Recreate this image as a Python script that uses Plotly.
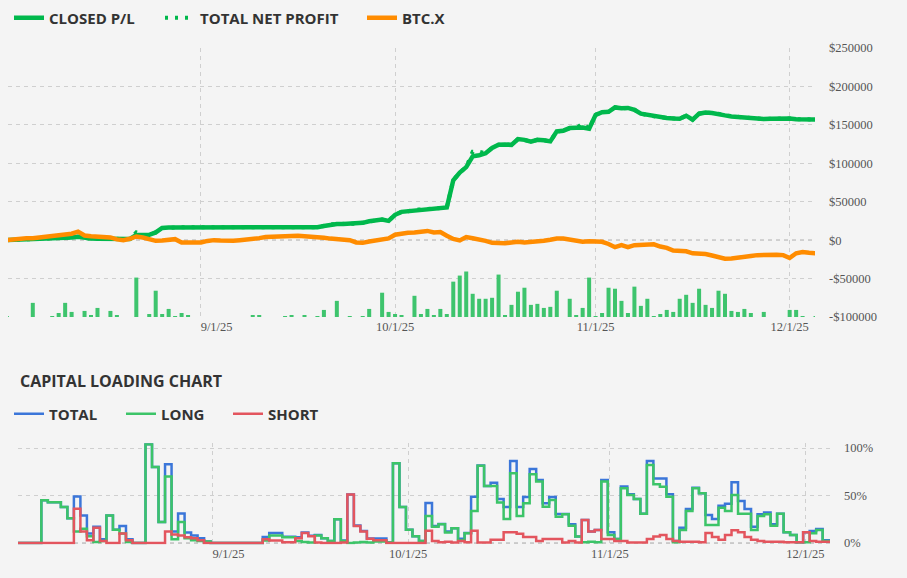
import pandas as pd
import plotly.graph_objects as go

# ---- data ----
days = pd.date_range("2025-08-02", "2025-12-05", freq="D")           # 126 trading days
load_times = pd.date_range("2025-08-01 16:00", periods=127, freq="D")  # capital loading, at close

daily_pl_bars = [
    1000, 0, 0, 0, 18400, 0, 0, 1300, 5200, 18400,
    6600, 0, 7900, 2600, 11800, 0, 7900, 1750, 0, 0,
    51300, 0, 3900, 34200, 3900, 10500, 1300, 5200, 1750, 0,
    0, 0, 0, 0, 0, 0, 0, 0, 2600, 2600,
    0, 0, 0, 1300, 2600, 0, 2600, 0, 1300, 9200,
    0, 21000, 0, 1300, 0, 1300, 10500, 0, 31600, 6600,
    3900, 2600, 0, 27600, 3900, 10500, 2600, 10500, 3900, 46000,
    53900, 59200, 30200, 23700, 23700, 25000, 55200, 2600, 15800, 32900,
    38100, 15800, 17100, 11800, 13200, 34200, 0, 23700, 2600, 11800,
    51300, 1300, 5200, 38100, 36800, 21000, 5200, 39500, 14500, 23700,
    1300, 3900, 9200, 6600, 23700, 28900, 18400, 36800, 15800, 11800,
    34200, 30200, 7900, 6600, 10500, 5200, 0, 6600, 0, 0,
    0, 9200, 9200, 1300, 0, 1300,
]

closed_pl = [
    0, 300, 500, 600, 800, 1000, 1500, 2200, 2500, 2800,
    3500, 4500, 2500, 2000, 1800, 1800, 1500, 1200, 1200, 1500,
    6600, 6600, 7000, 10000, 15800, 16500, 16600, 16700, 16700, 16700,
    16700, 16700, 16700, 16700, 16700, 16700, 16700, 16700, 16700, 16700,
    16800, 16800, 16800, 16800, 16800, 16800, 16900, 16900, 16900, 18500,
    20500, 21000, 21000, 21200, 21500, 22500, 24500, 25500, 26700, 25000,
    33000, 36800, 37500, 39500, 40000, 40500, 41000, 41500, 42500, 78000,
    88000, 95000, 109000, 110500, 113000, 120000, 124000, 124500, 124000, 131500,
    130500, 128000, 130600, 130000, 128500, 141500, 142400, 145800, 145800, 146500,
    145000, 163000, 166500, 167000, 172700, 171500, 172000, 169700, 164500, 162800,
    161000, 159700, 159000, 158300, 158000, 161900, 156700, 164500, 166000, 165300,
    164500, 162300, 161000, 160200, 159500, 158800, 158000, 157500, 157800, 158400,
    158400, 158400, 157200, 157100, 157100, 157100,
]

total_net_profit = [
    0, 300, 500, 600, 800, 1000, 1500, 2200, 2500, 2800,
    3500, 4500, 2500, 2000, 1800, 1800, 1500, 1200, 1200, 1500,
    10000, 6600, 7000, 10000, 15800, 16500, 16600, 16700, 16700, 16700,
    16700, 16700, 16700, 16700, 16700, 16700, 16700, 16700, 16700, 16700,
    16800, 16800, 16800, 16800, 16800, 16800, 16900, 16900, 16900, 18500,
    20500, 21000, 21000, 21200, 21500, 22500, 24500, 25500, 26700, 25000,
    33000, 36800, 37500, 39500, 40000, 40500, 41000, 41500, 42500, 78000,
    88000, 95000, 115000, 115000, 113000, 120000, 124000, 124500, 124000, 131500,
    130500, 128000, 130600, 130000, 128500, 141500, 142400, 145800, 145800, 152000,
    145000, 163000, 166500, 167000, 172700, 171500, 172000, 169700, 164500, 162800,
    161000, 159700, 159000, 158300, 158000, 161900, 156700, 164500, 166000, 165300,
    164500, 162300, 161000, 160200, 159500, 158800, 158000, 157500, 157800, 158400,
    158400, 158400, 157200, 157100, 157100, 157100,
]

btc_x = [
    0, 1000, 2600, 2600, 2600, 3500, 4800, 5500, 6600, 7500,
    8300, 11000, 6000, 5000, 4800, 4500, 3500, 1000, 0, 1750,
    4800, 3500, 1500, -900, -500, 0, 1300, -3000, -3000, -3200,
    -3000, -1000, 0, -500, -900, -900, 0, 500, 1300, 2600,
    4000, 4500, 4800, 5000, 5200, 5700, 5200, 4800, 4000, 3000,
    2000, 1300, 1000, 0, -3000, -3500, -1750, -500, 0, 2200,
    7000, 8500, 9500, 10000, 11000, 12000, 10000, 10500, 5700, 1500,
    -400, 4000, 2500, 1300, -1000, -3500, -4000, -4000, -3000, -2200,
    -3000, -2500, -1500, -900, 500, 2200, 2200, 1000, -1000, -2200,
    -1500, -1300, -2200, -5000, -9200, -6600, -9200, -6600, -6000, -4800,
    -5500, -8300, -10000, -13600, -14000, -14500, -17100, -17500, -18000, -20000,
    -22400, -24100, -24000, -22400, -21500, -20600, -19500, -18900, -18900, -18900,
    -19500, -23200, -17100, -15400, -16500, -17100,
]

load_total = [
    0, 0, 0, 0, 45, 43, 43, 38, 26, 49,
    29, 10, 17, 4, 29, 14, 18, 4, 0, 0,
    104, 80, 22, 83, 12, 31, 11, 8, 5, 1.5,
    0, 0, 0, 0, 0, 0, 0, 0, 6.3, 10.5,
    10.5, 6.5, 6.5, 6, 11, 7.5, 8.5, 5, 2, 25,
    2.5, 51, 18.5, 12.5, 4.6, 4.6, 4.6, 0.5, 84, 38,
    14, 7, 2, 42, 18, 20, 12, 15.5, 4.5, 10.5,
    48.8, 81.5, 60, 63.5, 46.3, 37.9, 86.3, 37.9, 48.4, 77.9,
    66.3, 41.8, 48.4, 30.5, 30.5, 19.6, 6.7, 24.2, 12, 13.7,
    66.3, 11.2, 4.2, 59.5, 51.2, 46.3, 30.9, 86.3, 68, 68,
    51.2, 2, 16.1, 35.8, 58.2, 52.3, 29.5, 25.3, 39.3, 41.4,
    63.9, 44.2, 35.8, 17.2, 30.2, 32, 19.6, 30.9, 11.2, 8.4,
    0.7, 11.2, 12.6, 14.7, 2.8, 2.8, 2.8,
]

load_long = [
    0, 0, 0, 0, 45, 43, 43, 38, 26, 12,
    15, 7, 1, 2, 29, 14, 10, 1, 0, 0,
    104, 80, 22, 70, 4, 22, 5, 3, 2, 1.5,
    0, 0, 0, 0, 0, 0, 0, 0, 2.5, 8,
    8, 6, 6, 2, 1, 0.5, 8, 5, 2, 25,
    2, 0, 0.5, 1, 0.5, 1.5, 1.5, 0.5, 84, 38,
    14, 7, 2, 28.4, 17, 19.6, 11, 15.4, 2.8, 10.2,
    33.7, 81.4, 60, 60, 42.5, 25.3, 73.3, 28.4, 41.8, 72.3,
    64.6, 38.2, 45.3, 27.7, 30.2, 18.2, 6.7, 0.7, 1.4, 0.7,
    64.6, 8.4, 4.2, 57.5, 50.5, 46.3, 30.9, 82, 61.8, 59.3,
    48.8, 0.7, 13.7, 33.7, 57.5, 52.3, 19, 19, 37.2, 33.7,
    50.5, 30.9, 30.9, 13.7, 28.4, 30.2, 18.2, 30.9, 11.2, 8.4,
    0.7, 0.7, 10.2, 13.7, 2, 2, 2,
]

load_short = [
    0, 0, 0, 0, 0, 0, 0, 0, 0, 36,
    12, 3, 16, 2, 0, 0, 10, 3, 0, 0,
    0, 0, 0, 12, 9, 8, 6, 5, 3, 0,
    0, 0, 0, 0, 0, 0, 0, 0, 4, 2.5,
    2.5, 0.7, 0.7, 5, 10.5, 7, 0.5, 0, 0, 0,
    0.5, 51, 18, 12, 4.5, 3, 3, 0, 0, 0,
    0, 0, 0, 13, 2, 0.7, 1.4, 0.5, 2, 0.7,
    13, 0.5, 0.5, 3.5, 3.5, 11.2, 11.2, 9.8, 6.3, 6.3,
    2, 4.2, 4.2, 4.2, 0.5, 2, 0.5, 24.2, 12, 13.7,
    4.2, 4.2, 2, 2, 0.5, 0.5, 0.5, 4.2, 6.7, 8.4,
    4.2, 2, 1.4, 1.4, 1.4, 0.7, 10.5, 6.3, 3.5, 8.4,
    13.3, 11.2, 6.3, 3.5, 2, 1.4, 1.4, 1.4, 0.7, 0.7,
    0.7, 11.2, 2, 1.4, 1.4, 1.4, 1.4,
]

month_ticks = ["2025-09-01", "2025-10-01", "2025-11-01", "2025-12-01"]
# the first label sits to the right of its gridline in the original
month_labels = ["\u00a0" * 10 + "9/1/25", "10/1/25", "11/1/25", "12/1/25"]
pl_ticks = [-100000, -50000, 0, 50000, 100000, 150000, 200000, 250000]
pl_labels = ["-$100000", "-$50000", "$0", "$50000", "$100000", "$150000", "$200000", "$250000"]
load_ticks = [0, 50, 100]
load_labels = ["0%", "50%", "100%"]

# ---- style ----
W, H = 907, 578
BG = "#f4f4f4"
GREEN = "#00b84c"
ORANGE = "#ff8c00"
BAR_GREEN = "#3ec46d"
BLUE = "#3b76d9"
LONG_GREEN = "#3cc468"
RED = "#e3555e"
GRID = "#cfcfcf"
TICKFONT = dict(family="Liberation Serif", size=12.5, color="#555555")
LEGFONT = dict(family="Open Sans", size=15, color="#333333", weight=700)


def px_x(p):
    return p / W


def px_y(p):
    return 1 - p / H


fig = go.Figure()

fig.add_trace(go.Bar(x=days, y=daily_pl_bars, base=-100000, marker=dict(color=BAR_GREEN, line=dict(width=0)),
                     showlegend=False, xaxis="x", yaxis="y"))
fig.add_trace(go.Scatter(x=days, y=total_net_profit, mode="lines", name="TOTAL NET PROFIT",
                         line=dict(color=GREEN, width=4, dash="3px,7px"), legend="legend2",
                         xaxis="x", yaxis="y"))
fig.add_trace(go.Scatter(x=days, y=closed_pl, mode="lines", name="CLOSED P/L",
                         line=dict(color=GREEN, width=4.5), legend="legend",
                         xaxis="x", yaxis="y"))
fig.add_trace(go.Scatter(x=days, y=btc_x, mode="lines", name="BTC.X",
                         line=dict(color=ORANGE, width=4.5), legend="legend3",
                         xaxis="x", yaxis="y"))

fig.add_trace(go.Scatter(x=load_times, y=load_total, mode="lines", name="TOTAL",
                         line=dict(color=BLUE, width=2.5, shape="hv"), legend="legend4",
                         xaxis="x2", yaxis="y2"))
fig.add_trace(go.Scatter(x=load_times, y=load_long, mode="lines", name="LONG",
                         line=dict(color=LONG_GREEN, width=2.5, shape="hv"), legend="legend5",
                         xaxis="x2", yaxis="y2"))
fig.add_trace(go.Scatter(x=load_times, y=load_short, mode="lines", name="SHORT",
                         line=dict(color=RED, width=2.5, shape="hv"), legend="legend6",
                         xaxis="x2", yaxis="y2"))

axis_common = dict(showgrid=True, gridcolor=GRID, griddash="4px,4px", gridwidth=1,
                   zeroline=False, showline=False, ticks="", tickfont=TICKFONT, fixedrange=True)


def leg(xp, yp):
    return dict(orientation="h", x=px_x(xp), y=px_y(yp), xanchor="left", yanchor="middle",
                bgcolor="rgba(0,0,0,0)", font=LEGFONT, borderwidth=0)


fig.update_layout(
    width=W, height=H,
    margin=dict(l=0, r=0, t=0, b=0, autoexpand=False),
    paper_bgcolor=BG, plot_bgcolor=BG,
    bargap=0.38,
    xaxis=dict(domain=[px_x(8), px_x(815)], range=["2025-08-02 04:00", "2025-12-04 22:00"], type="date",
               tickvals=month_ticks, ticktext=month_labels, anchor="y", **axis_common),
    yaxis=dict(domain=[px_y(317), px_y(48)], range=[-100000, 250000], side="right", anchor="x",
               tickvals=pl_ticks, ticktext=pl_labels, ticklabelstandoff=13, **axis_common),
    xaxis2=dict(domain=[px_x(18), px_x(830)], range=["2025-08-02 02:00", "2025-12-04 19:00"], type="date",
                tickvals=month_ticks, ticktext=month_labels, anchor="y2", **axis_common),
    yaxis2=dict(domain=[px_y(544.4), px_y(443.25)], range=[-1.5, 105], side="right", anchor="x2",
                tickvals=load_ticks, ticktext=load_labels, ticklabelstandoff=13, **axis_common),
    legend=leg(9, 18), legend2=leg(160, 18), legend3=leg(362, 18),
    legend4=leg(9, 414), legend5=leg(121, 414), legend6=leg(228, 414),
    shapes=[
        dict(type="line", xref="x domain", x0=0, x1=1, yref="y", y0=0, y1=0, layer="below",
             line=dict(color="#9a9a9a", width=1, dash="4px,4px")),
        dict(type="line", xref="x2 domain", x0=0, x1=1, yref="y2", y0=0, y1=0, layer="below",
             line=dict(color="#9a9a9a", width=1, dash="4px,4px")),
    ],
    annotations=[
        dict(text="CAPITAL LOADING CHART", xref="paper", yref="paper", x=px_x(18), y=px_y(381),
             xanchor="left", yanchor="middle", showarrow=False,
             font=dict(family="Open Sans", size=16, color="#333333", weight=700)),
    ],
    showlegend=True,
)

# page body margin would offset the fixed-size figure; drop it
fig.write_html("out.html", config={"displayModeBar": False},
               post_script="document.body.style.margin='0px';document.body.style.background='#f4f4f4';")
